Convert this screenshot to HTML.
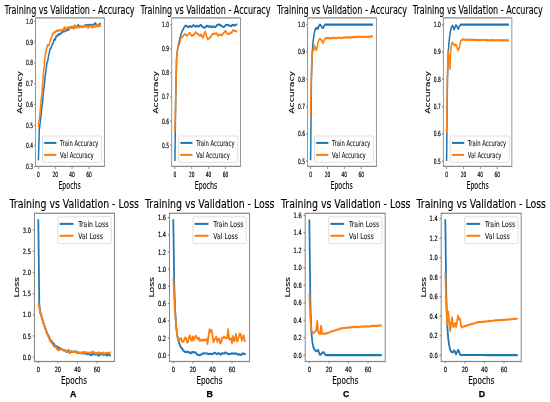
<!DOCTYPE html>
<html><head><meta charset="utf-8"><title>Training vs Validation</title>
<style>html,body{margin:0;padding:0;background:#fff}svg{display:block}</style></head>
<body>
<svg width="550" height="402" viewBox="0 0 550 402">
<rect width="550" height="402" fill="#ffffff"/>
<g transform="scale(0.704,1)" font-family='"DejaVu Sans","Liberation Sans",sans-serif' fill="#000" stroke="#000" stroke-width="0.12">
<rect x="50.57" y="17.90" width="97.73" height="148.50" fill="#fff" stroke="none"/>
<polyline points="54.55,160.28 55.74,130.20 56.94,122.87 58.14,116.42 59.33,107.47 60.53,102.36 61.73,91.14 62.92,85.36 64.12,76.60 65.32,70.85 66.51,63.40 67.71,61.54 68.91,55.86 70.10,52.49 71.30,48.64 72.50,48.16 73.69,45.38 74.89,44.06 76.09,41.38 77.28,39.25 78.48,39.62 79.68,36.73 80.87,35.91 82.07,35.21 83.27,34.11 84.46,34.72 85.66,33.55 86.86,33.52 88.05,32.26 89.25,31.07 90.45,31.71 91.64,31.10 92.84,30.97 94.04,30.74 95.23,30.22 96.43,29.31 97.63,29.88 98.82,28.41 100.02,26.88 101.22,27.29 102.41,27.72 103.61,27.95 104.81,27.75 106.00,25.64 107.20,26.92 108.40,27.40 109.60,26.63 110.79,24.96 111.99,26.52 113.19,26.02 114.38,26.20 115.58,26.66 116.78,27.23 117.97,26.49 119.17,26.29 120.37,25.54 121.56,25.25 122.76,25.09 123.96,25.54 125.15,24.96 126.35,26.24 127.55,24.49 128.74,25.02 129.94,25.60 131.14,24.87 132.33,25.25 133.53,24.17 134.73,23.76 135.92,23.12 137.12,26.01 138.32,25.97 139.51,25.10 140.71,24.47 141.91,23.79 143.10,24.17" fill="none" stroke="#1f77b4" stroke-width="2.15" stroke-linejoin="round" stroke-linecap="butt"/>
<polyline points="54.55,127.09 55.74,119.55 56.94,112.01 58.14,102.43 59.33,95.01 60.53,83.96 61.73,73.00 62.92,65.60 64.12,55.38 65.32,51.15 66.51,47.64 67.71,45.00 68.91,45.67 70.10,44.23 71.30,40.31 72.50,38.71 73.69,36.28 74.89,33.48 76.09,33.27 77.28,31.83 78.48,32.19 79.68,31.21 80.87,30.48 82.07,31.13 83.27,30.39 84.46,30.14 85.66,30.31 86.86,30.60 88.05,30.63 89.25,29.42 90.45,29.35 91.64,27.10 92.84,30.80 94.04,28.51 95.23,28.12 96.43,27.13 97.63,27.67 98.82,28.61 100.02,27.73 101.22,27.11 102.41,27.64 103.61,26.57 104.81,28.71 106.00,25.68 107.20,25.85 108.40,27.30 109.60,26.47 110.79,26.89 111.99,27.57 113.19,26.77 114.38,25.96 115.58,27.06 116.78,27.01 117.97,26.71 119.17,26.25 120.37,25.50 121.56,27.04 122.76,26.04 123.96,26.24 125.15,27.91 126.35,26.67 127.55,26.39 128.74,26.27 129.94,25.92 131.14,27.83 132.33,26.06 133.53,26.61 134.73,27.20 135.92,25.52 137.12,25.30 138.32,26.40 139.51,25.12 140.71,26.08 141.91,25.67 143.10,26.59" fill="none" stroke="#ff7f0e" stroke-width="2.15" stroke-linejoin="round" stroke-linecap="butt"/>
<rect x="50.57" y="17.90" width="97.73" height="148.50" fill="none" stroke="#888888" stroke-width="1.25"/>
<line x1="48.57" x2="50.57" y1="166.50" y2="166.50" stroke="#888888" stroke-width="1.25"/>
<text transform="translate(46.77,169.09) scale(0.86,1)" font-size="7.2" stroke-width="0.22" text-anchor="end">0.3</text>
<line x1="48.57" x2="50.57" y1="145.76" y2="145.76" stroke="#888888" stroke-width="1.25"/>
<text transform="translate(46.77,148.35) scale(0.86,1)" font-size="7.2" stroke-width="0.22" text-anchor="end">0.4</text>
<line x1="48.57" x2="50.57" y1="125.02" y2="125.02" stroke="#888888" stroke-width="1.25"/>
<text transform="translate(46.77,127.61) scale(0.86,1)" font-size="7.2" stroke-width="0.22" text-anchor="end">0.5</text>
<line x1="48.57" x2="50.57" y1="104.28" y2="104.28" stroke="#888888" stroke-width="1.25"/>
<text transform="translate(46.77,106.87) scale(0.86,1)" font-size="7.2" stroke-width="0.22" text-anchor="end">0.6</text>
<line x1="48.57" x2="50.57" y1="83.54" y2="83.54" stroke="#888888" stroke-width="1.25"/>
<text transform="translate(46.77,86.13) scale(0.86,1)" font-size="7.2" stroke-width="0.22" text-anchor="end">0.7</text>
<line x1="48.57" x2="50.57" y1="62.80" y2="62.80" stroke="#888888" stroke-width="1.25"/>
<text transform="translate(46.77,65.39) scale(0.86,1)" font-size="7.2" stroke-width="0.22" text-anchor="end">0.8</text>
<line x1="48.57" x2="50.57" y1="42.06" y2="42.06" stroke="#888888" stroke-width="1.25"/>
<text transform="translate(46.77,44.65) scale(0.86,1)" font-size="7.2" stroke-width="0.22" text-anchor="end">0.9</text>
<line x1="48.57" x2="50.57" y1="21.32" y2="21.32" stroke="#888888" stroke-width="1.25"/>
<text transform="translate(46.77,23.91) scale(0.86,1)" font-size="7.2" stroke-width="0.22" text-anchor="end">1.0</text>
<line x1="54.55" x2="54.55" y1="166.40" y2="169.00" stroke="#888888" stroke-width="1.25"/>
<text transform="translate(54.55,177.00) scale(0.86,1)" font-size="7.2" stroke-width="0.22" text-anchor="middle">0</text>
<line x1="78.48" x2="78.48" y1="166.40" y2="169.00" stroke="#888888" stroke-width="1.25"/>
<text transform="translate(78.48,177.00) scale(0.86,1)" font-size="7.2" stroke-width="0.22" text-anchor="middle">20</text>
<line x1="102.41" x2="102.41" y1="166.40" y2="169.00" stroke="#888888" stroke-width="1.25"/>
<text transform="translate(102.41,177.00) scale(0.86,1)" font-size="7.2" stroke-width="0.22" text-anchor="middle">40</text>
<line x1="126.35" x2="126.35" y1="166.40" y2="169.00" stroke="#888888" stroke-width="1.25"/>
<text transform="translate(126.35,177.00) scale(0.86,1)" font-size="7.2" stroke-width="0.22" text-anchor="middle">60</text>
<text transform="translate(98.86,188.50) scale(0.915,1)" font-size="9.7" text-anchor="middle">Epochs</text>
<text transform="translate(30.68,92.30) rotate(-90)" font-size="9.4" text-anchor="middle">Accuracy</text>
<text x="6.53" y="13.70" font-size="11.5" stroke-width="0.14" textLength="184.66" lengthAdjust="spacingAndGlyphs">Training vs Validation - Accuracy</text>
<rect x="60.37" y="136.00" width="83.95" height="26.30" rx="1.6" ry="1.2" fill="#fff" fill-opacity="0.8" stroke="#cccccc" stroke-width="0.7"/>
<line x1="62.78" x2="80.11" y1="142.90" y2="142.90" stroke="#1f77b4" stroke-width="2.05"/>
<text transform="translate(85.37,146.02) scale(0.915,1)" font-size="8.2" fill="#111" stroke-width="0.08">Train Accuracy</text>
<line x1="62.78" x2="80.11" y1="154.90" y2="154.90" stroke="#ff7f0e" stroke-width="2.05"/>
<text transform="translate(85.37,158.02) scale(0.915,1)" font-size="8.2" fill="#111" stroke-width="0.08">Val Accuracy</text>
</g>
<g transform="scale(0.704,1)" font-family='"DejaVu Sans","Liberation Sans",sans-serif' fill="#000" stroke="#000" stroke-width="0.12">
<rect x="243.89" y="17.90" width="97.73" height="148.50" fill="#fff" stroke="none"/>
<polyline points="248.44,161.01 249.63,96.90 250.83,58.34 252.03,50.48 253.22,45.83 254.42,41.76 255.62,38.16 256.81,35.09 258.01,32.39 259.21,30.53 260.40,29.33 261.60,27.20 262.80,25.99 264.00,25.59 265.19,26.16 266.39,26.67 267.59,26.91 268.78,26.65 269.98,26.12 271.18,26.60 272.37,26.95 273.57,25.99 274.77,25.16 275.96,25.73 277.16,26.67 278.36,26.49 279.55,25.91 280.75,26.14 281.95,26.55 283.14,26.17 284.34,25.17 285.54,25.10 286.73,26.33 287.93,26.90 289.13,27.26 290.32,27.76 291.52,27.41 292.72,26.47 293.91,25.66 295.11,26.15 296.31,26.67 297.50,26.11 298.70,26.40 299.90,27.10 301.09,26.84 302.29,26.60 303.49,26.49 304.68,26.69 305.88,27.13 307.08,26.32 308.27,25.12 309.47,24.78 310.67,24.67 311.86,24.49 313.06,24.98 314.26,25.75 315.45,26.11 316.65,26.69 317.85,27.08 319.04,26.64 320.24,25.31 321.44,24.76 322.63,24.96 323.83,24.96 325.03,25.52 326.23,25.72 327.42,25.82 328.62,26.06 329.82,25.16 331.01,24.73 332.21,25.39 333.41,25.43 334.60,24.95 335.80,24.53 337.00,24.83" fill="none" stroke="#1f77b4" stroke-width="2.15" stroke-linejoin="round" stroke-linecap="butt"/>
<polyline points="248.44,131.36 249.63,96.90 250.83,58.34 252.03,49.44 253.22,46.48 254.42,44.92 255.62,41.89 256.81,38.47 258.01,37.31 259.21,36.80 260.40,35.30 261.60,34.55 262.80,34.14 264.00,34.76 265.19,35.59 266.39,35.28 267.59,34.36 268.78,33.02 269.98,33.11 271.18,34.81 272.37,35.71 273.57,35.10 274.77,35.16 275.96,34.74 277.16,32.80 278.36,32.23 279.55,33.31 280.75,34.14 281.95,34.30 283.14,35.64 284.34,35.85 285.54,34.47 286.73,35.63 287.93,37.78 289.13,36.70 290.32,33.31 291.52,31.58 292.72,34.36 293.91,37.24 295.11,39.45 296.31,38.86 297.50,37.91 298.70,37.49 299.90,36.32 301.09,34.44 302.29,34.04 303.49,33.86 304.68,33.53 305.88,33.61 307.08,33.22 308.27,34.06 309.47,35.82 310.67,35.16 311.86,34.53 313.06,34.83 314.26,35.05 315.45,35.15 316.65,33.85 317.85,32.88 319.04,31.92 320.24,30.79 321.44,31.93 322.63,33.68 323.83,34.03 325.03,33.93 326.23,33.43 327.42,32.64 328.62,32.96 329.82,32.05 331.01,30.02 332.21,30.31 333.41,31.02 334.60,30.96 335.80,31.32 337.00,31.50" fill="none" stroke="#ff7f0e" stroke-width="2.15" stroke-linejoin="round" stroke-linecap="butt"/>
<rect x="243.89" y="17.90" width="97.73" height="148.50" fill="none" stroke="#888888" stroke-width="1.25"/>
<line x1="241.89" x2="243.89" y1="145.10" y2="145.10" stroke="#888888" stroke-width="1.25"/>
<text transform="translate(240.09,147.69) scale(0.86,1)" font-size="7.2" stroke-width="0.22" text-anchor="end">0.5</text>
<line x1="241.89" x2="243.89" y1="121.00" y2="121.00" stroke="#888888" stroke-width="1.25"/>
<text transform="translate(240.09,123.59) scale(0.86,1)" font-size="7.2" stroke-width="0.22" text-anchor="end">0.6</text>
<line x1="241.89" x2="243.89" y1="96.90" y2="96.90" stroke="#888888" stroke-width="1.25"/>
<text transform="translate(240.09,99.49) scale(0.86,1)" font-size="7.2" stroke-width="0.22" text-anchor="end">0.7</text>
<line x1="241.89" x2="243.89" y1="72.80" y2="72.80" stroke="#888888" stroke-width="1.25"/>
<text transform="translate(240.09,75.39) scale(0.86,1)" font-size="7.2" stroke-width="0.22" text-anchor="end">0.8</text>
<line x1="241.89" x2="243.89" y1="48.70" y2="48.70" stroke="#888888" stroke-width="1.25"/>
<text transform="translate(240.09,51.29) scale(0.86,1)" font-size="7.2" stroke-width="0.22" text-anchor="end">0.9</text>
<line x1="241.89" x2="243.89" y1="24.60" y2="24.60" stroke="#888888" stroke-width="1.25"/>
<text transform="translate(240.09,27.19) scale(0.86,1)" font-size="7.2" stroke-width="0.22" text-anchor="end">1.0</text>
<line x1="248.44" x2="248.44" y1="166.40" y2="169.00" stroke="#888888" stroke-width="1.25"/>
<text transform="translate(248.44,177.00) scale(0.86,1)" font-size="7.2" stroke-width="0.22" text-anchor="middle">0</text>
<line x1="272.37" x2="272.37" y1="166.40" y2="169.00" stroke="#888888" stroke-width="1.25"/>
<text transform="translate(272.37,177.00) scale(0.86,1)" font-size="7.2" stroke-width="0.22" text-anchor="middle">20</text>
<line x1="296.31" x2="296.31" y1="166.40" y2="169.00" stroke="#888888" stroke-width="1.25"/>
<text transform="translate(296.31,177.00) scale(0.86,1)" font-size="7.2" stroke-width="0.22" text-anchor="middle">40</text>
<line x1="320.24" x2="320.24" y1="166.40" y2="169.00" stroke="#888888" stroke-width="1.25"/>
<text transform="translate(320.24,177.00) scale(0.86,1)" font-size="7.2" stroke-width="0.22" text-anchor="middle">60</text>
<text transform="translate(292.61,188.50) scale(0.915,1)" font-size="9.7" text-anchor="middle">Epochs</text>
<text transform="translate(224.15,92.30) rotate(-90)" font-size="9.4" text-anchor="middle">Accuracy</text>
<text x="199.57" y="13.70" font-size="11.5" stroke-width="0.14" textLength="184.66" lengthAdjust="spacingAndGlyphs">Training vs Validation - Accuracy</text>
<rect x="253.69" y="136.00" width="83.95" height="26.30" rx="1.6" ry="1.2" fill="#fff" fill-opacity="0.8" stroke="#cccccc" stroke-width="0.7"/>
<line x1="256.11" x2="273.44" y1="142.90" y2="142.90" stroke="#1f77b4" stroke-width="2.05"/>
<text transform="translate(278.69,146.02) scale(0.915,1)" font-size="8.2" fill="#111" stroke-width="0.08">Train Accuracy</text>
<line x1="256.11" x2="273.44" y1="154.90" y2="154.90" stroke="#ff7f0e" stroke-width="2.05"/>
<text transform="translate(278.69,158.02) scale(0.915,1)" font-size="8.2" fill="#111" stroke-width="0.08">Val Accuracy</text>
</g>
<g transform="scale(0.704,1)" font-family='"DejaVu Sans","Liberation Sans",sans-serif' fill="#000" stroke="#000" stroke-width="0.12">
<rect x="436.93" y="17.90" width="97.73" height="148.50" fill="#fff" stroke="none"/>
<polyline points="441.19,160.28 442.39,79.20 443.59,51.90 444.78,40.98 445.98,34.97 447.18,30.61 448.37,28.42 449.57,28.97 450.77,27.33 451.96,28.70 453.16,25.69 454.36,24.60 455.55,25.15 456.75,26.78 457.95,27.60 459.14,27.88 460.34,25.97 461.54,24.60 462.73,24.60 463.93,24.60 465.13,24.60 466.32,24.60 467.52,24.60 468.72,24.60 469.91,24.60 471.11,24.60 472.31,24.60 473.50,24.60 474.70,24.60 475.90,24.60 477.10,24.60 478.29,24.60 479.49,24.60 480.69,24.60 481.88,24.60 483.08,24.60 484.28,24.60 485.47,24.60 486.67,24.60 487.87,24.60 489.06,24.60 490.26,24.60 491.46,24.60 492.65,24.60 493.85,24.60 495.05,24.60 496.24,24.60 497.44,24.60 498.64,24.60 499.83,24.60 501.03,24.60 502.23,24.60 503.42,24.60 504.62,24.60 505.82,24.60 507.01,24.60 508.21,24.60 509.41,24.60 510.60,24.60 511.80,24.60 513.00,24.60 514.19,24.60 515.39,24.60 516.59,24.60 517.78,24.60 518.98,24.60 520.18,24.60 521.37,24.60 522.57,24.60 523.77,24.60 524.96,24.60 526.16,24.60 527.36,24.60 528.55,24.60 529.75,24.60" fill="none" stroke="#1f77b4" stroke-width="2.15" stroke-linejoin="round" stroke-linecap="butt"/>
<polyline points="441.19,114.96 442.39,68.28 443.59,53.27 444.78,50.53 445.98,45.07 447.18,49.17 448.37,47.53 449.57,50.26 450.77,45.62 451.96,41.53 453.16,39.62 454.36,38.80 455.55,39.34 456.75,40.43 457.95,41.53 459.14,43.16 460.34,40.43 461.54,38.80 462.73,38.11 463.93,38.05 465.13,38.13 466.32,37.79 467.52,38.46 468.72,38.24 469.91,37.93 471.11,38.35 472.31,37.73 473.50,37.89 474.70,38.06 475.90,37.88 477.10,38.11 478.29,38.26 479.49,37.71 480.69,37.65 481.88,37.79 483.08,37.78 484.28,38.20 485.47,37.87 486.67,37.75 487.87,37.56 489.06,37.27 490.26,37.64 491.46,37.66 492.65,37.24 493.85,37.43 495.05,37.66 496.24,37.06 497.44,37.47 498.64,37.36 499.83,37.42 501.03,37.08 502.23,36.90 503.42,37.19 504.62,37.00 505.82,37.17 507.01,36.53 508.21,36.69 509.41,37.13 510.60,36.86 511.80,36.75 513.00,36.84 514.19,37.07 515.39,36.92 516.59,36.70 517.78,36.74 518.98,37.00 520.18,36.70 521.37,36.99 522.57,37.21 523.77,36.69 524.96,36.50 526.16,36.58 527.36,36.34 528.55,36.25 529.75,36.53" fill="none" stroke="#ff7f0e" stroke-width="2.15" stroke-linejoin="round" stroke-linecap="butt"/>
<rect x="436.93" y="17.90" width="97.73" height="148.50" fill="none" stroke="#888888" stroke-width="1.25"/>
<line x1="434.93" x2="436.93" y1="161.10" y2="161.10" stroke="#888888" stroke-width="1.25"/>
<text transform="translate(433.13,163.69) scale(0.86,1)" font-size="7.2" stroke-width="0.22" text-anchor="end">0.5</text>
<line x1="434.93" x2="436.93" y1="133.80" y2="133.80" stroke="#888888" stroke-width="1.25"/>
<text transform="translate(433.13,136.39) scale(0.86,1)" font-size="7.2" stroke-width="0.22" text-anchor="end">0.6</text>
<line x1="434.93" x2="436.93" y1="106.50" y2="106.50" stroke="#888888" stroke-width="1.25"/>
<text transform="translate(433.13,109.09) scale(0.86,1)" font-size="7.2" stroke-width="0.22" text-anchor="end">0.7</text>
<line x1="434.93" x2="436.93" y1="79.20" y2="79.20" stroke="#888888" stroke-width="1.25"/>
<text transform="translate(433.13,81.79) scale(0.86,1)" font-size="7.2" stroke-width="0.22" text-anchor="end">0.8</text>
<line x1="434.93" x2="436.93" y1="51.90" y2="51.90" stroke="#888888" stroke-width="1.25"/>
<text transform="translate(433.13,54.49) scale(0.86,1)" font-size="7.2" stroke-width="0.22" text-anchor="end">0.9</text>
<line x1="434.93" x2="436.93" y1="24.60" y2="24.60" stroke="#888888" stroke-width="1.25"/>
<text transform="translate(433.13,27.19) scale(0.86,1)" font-size="7.2" stroke-width="0.22" text-anchor="end">1.0</text>
<line x1="441.19" x2="441.19" y1="166.40" y2="169.00" stroke="#888888" stroke-width="1.25"/>
<text transform="translate(441.19,177.00) scale(0.86,1)" font-size="7.2" stroke-width="0.22" text-anchor="middle">0</text>
<line x1="465.13" x2="465.13" y1="166.40" y2="169.00" stroke="#888888" stroke-width="1.25"/>
<text transform="translate(465.13,177.00) scale(0.86,1)" font-size="7.2" stroke-width="0.22" text-anchor="middle">20</text>
<line x1="489.06" x2="489.06" y1="166.40" y2="169.00" stroke="#888888" stroke-width="1.25"/>
<text transform="translate(489.06,177.00) scale(0.86,1)" font-size="7.2" stroke-width="0.22" text-anchor="middle">40</text>
<line x1="513.00" x2="513.00" y1="166.40" y2="169.00" stroke="#888888" stroke-width="1.25"/>
<text transform="translate(513.00,177.00) scale(0.86,1)" font-size="7.2" stroke-width="0.22" text-anchor="middle">60</text>
<text transform="translate(485.23,188.50) scale(0.915,1)" font-size="9.7" text-anchor="middle">Epochs</text>
<text transform="translate(418.04,92.30) rotate(-90)" font-size="9.4" text-anchor="middle">Accuracy</text>
<text x="393.47" y="13.70" font-size="11.5" stroke-width="0.14" textLength="184.66" lengthAdjust="spacingAndGlyphs">Training vs Validation - Accuracy</text>
<rect x="446.73" y="136.00" width="83.95" height="26.30" rx="1.6" ry="1.2" fill="#fff" fill-opacity="0.8" stroke="#cccccc" stroke-width="0.7"/>
<line x1="449.15" x2="466.48" y1="142.90" y2="142.90" stroke="#1f77b4" stroke-width="2.05"/>
<text transform="translate(471.73,146.02) scale(0.915,1)" font-size="8.2" fill="#111" stroke-width="0.08">Train Accuracy</text>
<line x1="449.15" x2="466.48" y1="154.90" y2="154.90" stroke="#ff7f0e" stroke-width="2.05"/>
<text transform="translate(471.73,158.02) scale(0.915,1)" font-size="8.2" fill="#111" stroke-width="0.08">Val Accuracy</text>
</g>
<g transform="scale(0.704,1)" font-family='"DejaVu Sans","Liberation Sans",sans-serif' fill="#000" stroke="#000" stroke-width="0.12">
<rect x="629.76" y="17.90" width="97.30" height="148.50" fill="#fff" stroke="none"/>
<polyline points="634.38,161.10 635.57,79.20 636.77,51.90 637.97,40.98 639.16,34.16 640.36,29.51 641.56,26.78 642.75,25.69 643.95,27.33 645.15,29.51 646.34,27.33 647.54,25.15 648.74,25.69 649.93,27.88 651.13,28.97 652.33,26.78 653.52,25.15 654.72,24.60 655.92,24.60 657.11,24.60 658.31,24.60 659.51,24.60 660.70,24.60 661.90,24.60 663.10,24.60 664.29,24.60 665.49,24.60 666.69,24.60 667.88,24.60 669.08,24.60 670.28,24.60 671.47,24.60 672.67,24.60 673.87,24.60 675.06,24.60 676.26,24.60 677.46,24.60 678.65,24.60 679.85,24.60 681.05,24.60 682.24,24.60 683.44,24.60 684.64,24.60 685.83,24.60 687.03,24.60 688.23,24.60 689.42,24.60 690.62,24.60 691.82,24.60 693.01,24.60 694.21,24.60 695.41,24.60 696.61,24.60 697.80,24.60 699.00,24.60 700.20,24.60 701.39,24.60 702.59,24.60 703.79,24.60 704.98,24.60 706.18,24.60 707.38,24.60 708.57,24.60 709.77,24.60 710.97,24.60 712.16,24.60 713.36,24.60 714.56,24.60 715.75,24.60 716.95,24.60 718.15,24.60 719.34,24.60 720.54,24.60 721.74,24.60 722.93,24.60" fill="none" stroke="#1f77b4" stroke-width="2.15" stroke-linejoin="round" stroke-linecap="butt"/>
<polyline points="634.38,133.25 635.57,73.74 636.77,51.90 637.97,55.99 639.16,68.83 640.36,50.53 641.56,43.71 642.75,42.62 643.95,43.71 645.15,45.35 646.34,45.07 647.54,44.53 648.74,46.44 649.93,49.17 651.13,50.26 652.33,47.80 653.52,43.71 654.72,40.98 655.92,39.62 657.11,39.67 658.31,39.44 659.51,39.78 660.70,39.73 661.90,39.66 663.10,40.02 664.29,39.85 665.49,39.71 666.69,39.63 667.88,39.82 669.08,39.98 670.28,39.65 671.47,39.94 672.67,39.91 673.87,39.90 675.06,39.95 676.26,40.04 677.46,39.88 678.65,40.17 679.85,40.07 681.05,40.07 682.24,40.17 683.44,40.01 684.64,40.01 685.83,40.04 687.03,40.09 688.23,39.98 689.42,39.81 690.62,39.93 691.82,40.62 693.01,39.94 694.21,40.44 695.41,40.44 696.61,40.14 697.80,40.39 699.00,39.93 700.20,40.08 701.39,40.34 702.59,40.49 703.79,40.18 704.98,40.05 706.18,40.24 707.38,39.97 708.57,40.20 709.77,40.17 710.97,40.36 712.16,40.26 713.36,40.37 714.56,40.66 715.75,39.95 716.95,40.40 718.15,40.37 719.34,40.18 720.54,40.39 721.74,40.39 722.93,40.36" fill="none" stroke="#ff7f0e" stroke-width="2.15" stroke-linejoin="round" stroke-linecap="butt"/>
<rect x="629.76" y="17.90" width="97.30" height="148.50" fill="none" stroke="#888888" stroke-width="1.25"/>
<line x1="627.76" x2="629.76" y1="161.10" y2="161.10" stroke="#888888" stroke-width="1.25"/>
<text transform="translate(625.96,163.69) scale(0.86,1)" font-size="7.2" stroke-width="0.22" text-anchor="end">0.5</text>
<line x1="627.76" x2="629.76" y1="133.80" y2="133.80" stroke="#888888" stroke-width="1.25"/>
<text transform="translate(625.96,136.39) scale(0.86,1)" font-size="7.2" stroke-width="0.22" text-anchor="end">0.6</text>
<line x1="627.76" x2="629.76" y1="106.50" y2="106.50" stroke="#888888" stroke-width="1.25"/>
<text transform="translate(625.96,109.09) scale(0.86,1)" font-size="7.2" stroke-width="0.22" text-anchor="end">0.7</text>
<line x1="627.76" x2="629.76" y1="79.20" y2="79.20" stroke="#888888" stroke-width="1.25"/>
<text transform="translate(625.96,81.79) scale(0.86,1)" font-size="7.2" stroke-width="0.22" text-anchor="end">0.8</text>
<line x1="627.76" x2="629.76" y1="51.90" y2="51.90" stroke="#888888" stroke-width="1.25"/>
<text transform="translate(625.96,54.49) scale(0.86,1)" font-size="7.2" stroke-width="0.22" text-anchor="end">0.9</text>
<line x1="627.76" x2="629.76" y1="24.60" y2="24.60" stroke="#888888" stroke-width="1.25"/>
<text transform="translate(625.96,27.19) scale(0.86,1)" font-size="7.2" stroke-width="0.22" text-anchor="end">1.0</text>
<line x1="634.38" x2="634.38" y1="166.40" y2="169.00" stroke="#888888" stroke-width="1.25"/>
<text transform="translate(634.38,177.00) scale(0.86,1)" font-size="7.2" stroke-width="0.22" text-anchor="middle">0</text>
<line x1="658.31" x2="658.31" y1="166.40" y2="169.00" stroke="#888888" stroke-width="1.25"/>
<text transform="translate(658.31,177.00) scale(0.86,1)" font-size="7.2" stroke-width="0.22" text-anchor="middle">20</text>
<line x1="682.24" x2="682.24" y1="166.40" y2="169.00" stroke="#888888" stroke-width="1.25"/>
<text transform="translate(682.24,177.00) scale(0.86,1)" font-size="7.2" stroke-width="0.22" text-anchor="middle">40</text>
<line x1="706.18" x2="706.18" y1="166.40" y2="169.00" stroke="#888888" stroke-width="1.25"/>
<text transform="translate(706.18,177.00) scale(0.86,1)" font-size="7.2" stroke-width="0.22" text-anchor="middle">60</text>
<text transform="translate(678.41,188.50) scale(0.915,1)" font-size="9.7" text-anchor="middle">Epochs</text>
<text transform="translate(611.22,92.30) rotate(-90)" font-size="9.4" text-anchor="middle">Accuracy</text>
<text x="586.36" y="13.70" font-size="11.5" stroke-width="0.14" textLength="184.66" lengthAdjust="spacingAndGlyphs">Training vs Validation - Accuracy</text>
<rect x="639.56" y="136.00" width="83.95" height="26.30" rx="1.6" ry="1.2" fill="#fff" fill-opacity="0.8" stroke="#cccccc" stroke-width="0.7"/>
<line x1="641.97" x2="659.30" y1="142.90" y2="142.90" stroke="#1f77b4" stroke-width="2.05"/>
<text transform="translate(664.56,146.02) scale(0.915,1)" font-size="8.2" fill="#111" stroke-width="0.08">Train Accuracy</text>
<line x1="641.97" x2="659.30" y1="154.90" y2="154.90" stroke="#ff7f0e" stroke-width="2.05"/>
<text transform="translate(664.56,158.02) scale(0.915,1)" font-size="8.2" fill="#111" stroke-width="0.08">Val Accuracy</text>
</g>
<g transform="scale(0.82,1)" font-family='"DejaVu Sans","Liberation Sans",sans-serif' fill="#000" stroke="#000" stroke-width="0.12">
<rect x="42.01" y="213.30" width="97.56" height="148.20" fill="#fff" stroke="none"/>
<polyline points="46.71,219.25 47.90,304.16 49.09,311.93 50.29,315.18 51.48,318.54 52.67,321.77 53.86,325.26 55.06,327.70 56.25,330.33 57.44,333.29 58.63,335.07 59.83,336.95 61.02,339.37 62.21,340.86 63.40,341.46 64.60,343.33 65.79,343.67 66.98,345.82 68.18,346.34 69.37,346.34 70.56,347.20 71.75,348.07 72.95,348.16 74.14,348.81 75.33,349.11 76.52,349.92 77.72,350.01 78.91,350.21 80.10,350.89 81.30,351.97 82.49,351.21 83.68,350.11 84.87,352.90 86.07,352.19 87.26,352.03 88.45,351.97 89.64,351.63 90.84,351.77 92.03,351.73 93.22,351.79 94.41,352.92 95.61,352.72 96.80,353.04 97.99,352.66 99.19,353.17 100.38,353.55 101.57,352.19 102.76,353.32 103.96,353.66 105.15,353.00 106.34,354.12 107.53,353.84 108.73,354.03 109.92,354.76 111.11,355.19 112.30,353.95 113.50,354.31 114.69,354.36 115.88,353.69 117.08,354.59 118.27,353.32 119.46,355.09 120.65,355.70 121.85,354.45 123.04,354.18 124.23,353.59 125.42,354.74 126.62,354.73 127.81,354.68 129.00,353.41 130.20,355.61 131.39,354.57 132.58,354.81 133.77,355.33 134.97,355.09" fill="none" stroke="#1f77b4" stroke-width="2.15" stroke-linejoin="round" stroke-linecap="butt"/>
<polyline points="46.71,302.89 47.90,307.97 49.09,313.55 50.29,316.03 51.48,318.83 52.67,322.80 53.86,325.18 55.06,328.24 56.25,331.05 57.44,333.91 58.63,336.05 59.83,338.09 61.02,341.11 62.21,341.67 63.40,343.41 64.60,344.55 65.79,346.41 66.98,346.58 68.18,346.70 69.37,348.91 70.56,349.92 71.75,350.25 72.95,349.53 74.14,348.54 75.33,349.55 76.52,349.49 77.72,350.69 78.91,350.08 80.10,351.23 81.30,350.86 82.49,351.54 83.68,351.82 84.87,351.52 86.07,352.00 87.26,351.05 88.45,351.82 89.64,351.76 90.84,352.25 92.03,351.37 93.22,352.60 94.41,351.84 95.61,352.50 96.80,352.91 97.99,352.70 99.19,352.94 100.38,352.65 101.57,352.77 102.76,352.43 103.96,352.32 105.15,352.78 106.34,352.75 107.53,352.61 108.73,353.14 109.92,352.45 111.11,352.41 112.30,352.83 113.50,351.54 114.69,352.43 115.88,353.06 117.08,353.22 118.27,353.15 119.46,353.33 120.65,352.37 121.85,353.47 123.04,353.12 124.23,353.40 125.42,352.48 126.62,353.95 127.81,353.34 129.00,353.21 130.20,352.96 131.39,352.89 132.58,353.30 133.77,352.60 134.97,353.02" fill="none" stroke="#ff7f0e" stroke-width="2.15" stroke-linejoin="round" stroke-linecap="butt"/>
<rect x="42.01" y="213.30" width="97.56" height="148.20" fill="none" stroke="#888888" stroke-width="1.25"/>
<line x1="40.01" x2="42.01" y1="357.10" y2="357.10" stroke="#888888" stroke-width="1.25"/>
<text transform="translate(37.71,359.69) scale(0.86,1)" font-size="7.2" stroke-width="0.22" text-anchor="end">0.0</text>
<line x1="40.01" x2="42.01" y1="335.93" y2="335.93" stroke="#888888" stroke-width="1.25"/>
<text transform="translate(37.71,338.52) scale(0.86,1)" font-size="7.2" stroke-width="0.22" text-anchor="end">0.5</text>
<line x1="40.01" x2="42.01" y1="314.75" y2="314.75" stroke="#888888" stroke-width="1.25"/>
<text transform="translate(37.71,317.34) scale(0.86,1)" font-size="7.2" stroke-width="0.22" text-anchor="end">1.0</text>
<line x1="40.01" x2="42.01" y1="293.58" y2="293.58" stroke="#888888" stroke-width="1.25"/>
<text transform="translate(37.71,296.17) scale(0.86,1)" font-size="7.2" stroke-width="0.22" text-anchor="end">1.5</text>
<line x1="40.01" x2="42.01" y1="272.40" y2="272.40" stroke="#888888" stroke-width="1.25"/>
<text transform="translate(37.71,274.99) scale(0.86,1)" font-size="7.2" stroke-width="0.22" text-anchor="end">2.0</text>
<line x1="40.01" x2="42.01" y1="251.23" y2="251.23" stroke="#888888" stroke-width="1.25"/>
<text transform="translate(37.71,253.82) scale(0.86,1)" font-size="7.2" stroke-width="0.22" text-anchor="end">2.5</text>
<line x1="40.01" x2="42.01" y1="230.05" y2="230.05" stroke="#888888" stroke-width="1.25"/>
<text transform="translate(37.71,232.64) scale(0.86,1)" font-size="7.2" stroke-width="0.22" text-anchor="end">3.0</text>
<line x1="46.71" x2="46.71" y1="361.50" y2="363.30" stroke="#888888" stroke-width="1.25"/>
<text transform="translate(46.71,372.40) scale(0.86,1)" font-size="7.2" stroke-width="0.22" text-anchor="middle">0</text>
<line x1="70.56" x2="70.56" y1="361.50" y2="363.30" stroke="#888888" stroke-width="1.25"/>
<text transform="translate(70.56,372.40) scale(0.86,1)" font-size="7.2" stroke-width="0.22" text-anchor="middle">20</text>
<line x1="94.41" x2="94.41" y1="361.50" y2="363.30" stroke="#888888" stroke-width="1.25"/>
<text transform="translate(94.41,372.40) scale(0.86,1)" font-size="7.2" stroke-width="0.22" text-anchor="middle">40</text>
<line x1="118.27" x2="118.27" y1="361.50" y2="363.30" stroke="#888888" stroke-width="1.25"/>
<text transform="translate(118.27,372.40) scale(0.86,1)" font-size="7.2" stroke-width="0.22" text-anchor="middle">60</text>
<text transform="translate(90.24,384.10) scale(0.915,1)" font-size="9.7" text-anchor="middle">Epochs</text>
<text transform="translate(23.54,287.30) rotate(-90)" font-size="9.4" text-anchor="middle">Loss</text>
<text x="11.59" y="208.50" font-size="11.5" stroke-width="0.14" textLength="157.93" lengthAdjust="spacingAndGlyphs">Training vs Validation - Loss</text>
<rect x="70.67" y="216.80" width="65.00" height="26.80" rx="1.6" ry="1.2" fill="#fff" fill-opacity="0.8" stroke="#cccccc" stroke-width="0.7"/>
<line x1="72.74" x2="89.57" y1="223.90" y2="223.90" stroke="#1f77b4" stroke-width="2.05"/>
<text transform="translate(95.43,227.02) scale(0.915,1)" font-size="8.2" fill="#111" stroke-width="0.08">Train Loss</text>
<line x1="72.74" x2="89.57" y1="235.80" y2="235.80" stroke="#ff7f0e" stroke-width="2.05"/>
<text transform="translate(95.43,238.92) scale(0.915,1)" font-size="8.2" fill="#111" stroke-width="0.08">Val Loss</text>
</g>
<g transform="scale(0.82,1)" font-family='"DejaVu Sans","Liberation Sans",sans-serif' fill="#000" stroke="#000" stroke-width="0.12">
<rect x="206.71" y="213.30" width="97.56" height="148.20" fill="#fff" stroke="none"/>
<polyline points="211.34,219.32 212.53,286.40 213.73,312.20 214.92,326.82 216.11,335.42 217.30,339.72 218.50,343.16 219.69,345.74 220.88,347.58 222.08,348.42 223.27,350.31 224.46,351.10 225.65,351.71 226.85,352.19 228.04,351.91 229.23,351.78 230.42,352.18 231.62,353.04 232.81,353.11 234.00,352.19 235.20,352.14 236.39,352.44 237.58,352.32 238.77,352.75 239.97,354.03 241.16,354.96 242.35,355.03 243.54,355.09 244.74,354.96 245.93,354.21 247.12,353.62 248.31,353.28 249.51,353.20 250.70,353.46 251.89,353.50 253.09,353.61 254.28,354.07 255.47,354.03 256.66,353.77 257.86,353.97 259.05,354.01 260.24,353.35 261.43,352.73 262.63,353.09 263.82,353.82 265.01,354.03 266.20,353.21 267.40,353.29 268.59,354.61 269.78,354.17 270.98,353.17 272.17,353.48 273.36,353.53 274.55,352.62 275.75,352.64 276.94,353.49 278.13,353.93 279.32,354.16 280.52,354.05 281.71,353.67 282.90,353.31 284.10,353.47 285.29,353.69 286.48,353.44 287.67,353.41 288.87,354.13 290.06,354.50 291.25,354.20 292.44,354.68 293.64,354.97 294.83,354.28 296.02,353.47 297.21,353.68 298.41,354.28 299.60,353.82" fill="none" stroke="#1f77b4" stroke-width="2.15" stroke-linejoin="round" stroke-linecap="butt"/>
<polyline points="211.34,277.80 212.53,298.44 213.73,314.78 214.92,327.68 216.11,335.42 217.30,338.77 218.50,340.58 219.69,338.53 220.88,338.28 222.08,341.86 223.27,341.42 224.46,340.44 225.65,337.63 226.85,337.94 228.04,342.43 229.23,341.99 230.42,337.52 231.62,335.50 232.81,339.36 234.00,340.94 235.20,336.65 236.39,340.04 237.58,337.54 238.77,335.56 239.97,337.77 241.16,339.11 242.35,337.53 243.54,340.84 244.74,339.72 245.93,340.67 247.12,339.78 248.31,340.46 249.51,339.74 250.70,340.21 251.89,339.08 253.09,344.02 254.28,336.28 255.47,329.40 256.66,331.98 257.86,329.83 259.05,334.56 260.24,342.26 261.43,339.71 262.63,339.07 263.82,336.72 265.01,341.85 266.20,338.77 267.40,339.01 268.59,343.35 269.78,342.15 270.98,337.84 272.17,337.62 273.36,336.67 274.55,338.00 275.75,338.34 276.94,338.00 278.13,329.40 279.32,338.86 280.52,339.63 281.71,338.36 282.90,343.09 284.10,336.13 285.29,341.20 286.48,339.46 287.67,334.10 288.87,341.29 290.06,340.56 291.25,336.28 292.44,333.70 293.64,334.56 294.83,340.58 296.02,338.00 297.21,335.42 298.41,341.01 299.60,341.44" fill="none" stroke="#ff7f0e" stroke-width="2.15" stroke-linejoin="round" stroke-linecap="butt"/>
<rect x="206.71" y="213.30" width="97.56" height="148.20" fill="none" stroke="#888888" stroke-width="1.25"/>
<line x1="204.71" x2="206.71" y1="355.20" y2="355.20" stroke="#888888" stroke-width="1.25"/>
<text transform="translate(202.41,357.79) scale(0.86,1)" font-size="7.2" stroke-width="0.22" text-anchor="end">0.0</text>
<line x1="204.71" x2="206.71" y1="338.00" y2="338.00" stroke="#888888" stroke-width="1.25"/>
<text transform="translate(202.41,340.59) scale(0.86,1)" font-size="7.2" stroke-width="0.22" text-anchor="end">0.2</text>
<line x1="204.71" x2="206.71" y1="320.80" y2="320.80" stroke="#888888" stroke-width="1.25"/>
<text transform="translate(202.41,323.39) scale(0.86,1)" font-size="7.2" stroke-width="0.22" text-anchor="end">0.4</text>
<line x1="204.71" x2="206.71" y1="303.60" y2="303.60" stroke="#888888" stroke-width="1.25"/>
<text transform="translate(202.41,306.19) scale(0.86,1)" font-size="7.2" stroke-width="0.22" text-anchor="end">0.6</text>
<line x1="204.71" x2="206.71" y1="286.40" y2="286.40" stroke="#888888" stroke-width="1.25"/>
<text transform="translate(202.41,288.99) scale(0.86,1)" font-size="7.2" stroke-width="0.22" text-anchor="end">0.8</text>
<line x1="204.71" x2="206.71" y1="269.20" y2="269.20" stroke="#888888" stroke-width="1.25"/>
<text transform="translate(202.41,271.79) scale(0.86,1)" font-size="7.2" stroke-width="0.22" text-anchor="end">1.0</text>
<line x1="204.71" x2="206.71" y1="252.00" y2="252.00" stroke="#888888" stroke-width="1.25"/>
<text transform="translate(202.41,254.59) scale(0.86,1)" font-size="7.2" stroke-width="0.22" text-anchor="end">1.2</text>
<line x1="204.71" x2="206.71" y1="234.80" y2="234.80" stroke="#888888" stroke-width="1.25"/>
<text transform="translate(202.41,237.39) scale(0.86,1)" font-size="7.2" stroke-width="0.22" text-anchor="end">1.4</text>
<line x1="204.71" x2="206.71" y1="217.60" y2="217.60" stroke="#888888" stroke-width="1.25"/>
<text transform="translate(202.41,220.19) scale(0.86,1)" font-size="7.2" stroke-width="0.22" text-anchor="end">1.6</text>
<line x1="211.34" x2="211.34" y1="361.50" y2="363.30" stroke="#888888" stroke-width="1.25"/>
<text transform="translate(211.34,372.40) scale(0.86,1)" font-size="7.2" stroke-width="0.22" text-anchor="middle">0</text>
<line x1="235.20" x2="235.20" y1="361.50" y2="363.30" stroke="#888888" stroke-width="1.25"/>
<text transform="translate(235.20,372.40) scale(0.86,1)" font-size="7.2" stroke-width="0.22" text-anchor="middle">20</text>
<line x1="259.05" x2="259.05" y1="361.50" y2="363.30" stroke="#888888" stroke-width="1.25"/>
<text transform="translate(259.05,372.40) scale(0.86,1)" font-size="7.2" stroke-width="0.22" text-anchor="middle">40</text>
<line x1="282.90" x2="282.90" y1="361.50" y2="363.30" stroke="#888888" stroke-width="1.25"/>
<text transform="translate(282.90,372.40) scale(0.86,1)" font-size="7.2" stroke-width="0.22" text-anchor="middle">60</text>
<text transform="translate(255.37,384.10) scale(0.915,1)" font-size="9.7" text-anchor="middle">Epochs</text>
<text transform="translate(188.17,287.30) rotate(-90)" font-size="9.4" text-anchor="middle">Loss</text>
<text x="176.83" y="208.50" font-size="11.5" stroke-width="0.14" textLength="157.93" lengthAdjust="spacingAndGlyphs">Training vs Validation - Loss</text>
<rect x="235.37" y="216.80" width="65.00" height="26.80" rx="1.6" ry="1.2" fill="#fff" fill-opacity="0.8" stroke="#cccccc" stroke-width="0.7"/>
<line x1="237.44" x2="254.27" y1="223.90" y2="223.90" stroke="#1f77b4" stroke-width="2.05"/>
<text transform="translate(260.12,227.02) scale(0.915,1)" font-size="8.2" fill="#111" stroke-width="0.08">Train Loss</text>
<line x1="237.44" x2="254.27" y1="235.80" y2="235.80" stroke="#ff7f0e" stroke-width="2.05"/>
<text transform="translate(260.12,238.92) scale(0.915,1)" font-size="8.2" fill="#111" stroke-width="0.08">Val Loss</text>
</g>
<g transform="scale(0.82,1)" font-family='"DejaVu Sans","Liberation Sans",sans-serif' fill="#000" stroke="#000" stroke-width="0.12">
<rect x="372.20" y="213.30" width="97.56" height="148.20" fill="#fff" stroke="none"/>
<polyline points="377.26,219.57 378.45,300.95 379.64,331.57 380.83,341.20 382.03,346.89 383.22,349.07 384.41,350.39 385.60,351.26 386.80,350.82 387.99,349.95 389.18,353.01 390.38,354.85 391.57,354.32 392.76,353.01 393.95,352.14 395.15,352.57 396.34,354.32 397.53,355.11 398.72,355.11 399.92,355.11 401.11,355.11 402.30,355.11 403.50,355.11 404.69,355.11 405.88,355.11 407.07,355.11 408.27,355.11 409.46,355.11 410.65,355.11 411.84,355.11 413.04,355.11 414.23,355.11 415.42,355.11 416.61,355.11 417.81,355.11 419.00,355.11 420.19,355.11 421.39,355.11 422.58,355.11 423.77,355.11 424.96,355.11 426.16,355.11 427.35,355.11 428.54,355.11 429.73,355.11 430.93,355.11 432.12,355.11 433.31,355.11 434.50,355.11 435.70,355.11 436.89,355.11 438.08,355.11 439.28,355.11 440.47,355.11 441.66,355.11 442.85,355.11 444.05,355.11 445.24,355.11 446.43,355.11 447.62,355.11 448.82,355.11 450.01,355.11 451.20,355.11 452.40,355.11 453.59,355.11 454.78,355.11 455.97,355.11 457.17,355.11 458.36,355.11 459.55,355.11 460.74,355.11 461.94,355.11 463.13,355.11 464.32,355.11 465.51,355.11" fill="none" stroke="#1f77b4" stroke-width="2.15" stroke-linejoin="round" stroke-linecap="butt"/>
<polyline points="377.26,293.34 378.45,318.45 379.64,328.95 380.83,332.80 382.03,333.32 383.22,332.27 384.41,331.75 385.60,329.82 386.80,321.07 387.99,331.57 389.18,333.32 390.38,333.94 391.57,325.89 392.76,333.76 393.95,333.76 395.15,333.76 396.34,333.59 397.53,333.41 398.72,333.19 399.92,333.07 401.11,332.64 402.30,332.04 403.50,331.68 404.69,331.30 405.88,331.21 407.07,330.94 408.27,330.37 409.46,330.06 410.65,329.85 411.84,329.53 413.04,329.38 414.23,328.91 415.42,328.38 416.61,328.36 417.81,328.09 419.00,327.96 420.19,327.90 421.39,328.00 422.58,327.74 423.77,327.66 424.96,327.54 426.16,327.46 427.35,327.32 428.54,327.37 429.73,326.95 430.93,327.16 432.12,326.87 433.31,326.82 434.50,326.94 435.70,327.06 436.89,327.14 438.08,327.00 439.28,326.79 440.47,326.67 441.66,326.74 442.85,326.66 444.05,326.18 445.24,326.45 446.43,326.59 447.62,326.30 448.82,326.45 450.01,326.58 451.20,326.18 452.40,326.24 453.59,326.07 454.78,325.78 455.97,325.94 457.17,326.01 458.36,325.62 459.55,326.05 460.74,325.86 461.94,325.46 463.13,325.38 464.32,325.56 465.51,325.55" fill="none" stroke="#ff7f0e" stroke-width="2.15" stroke-linejoin="round" stroke-linecap="butt"/>
<rect x="372.20" y="213.30" width="97.56" height="148.20" fill="none" stroke="#888888" stroke-width="1.25"/>
<line x1="370.20" x2="372.20" y1="355.20" y2="355.20" stroke="#888888" stroke-width="1.25"/>
<text transform="translate(367.90,357.79) scale(0.86,1)" font-size="7.2" stroke-width="0.22" text-anchor="end">0.0</text>
<line x1="370.20" x2="372.20" y1="337.70" y2="337.70" stroke="#888888" stroke-width="1.25"/>
<text transform="translate(367.90,340.29) scale(0.86,1)" font-size="7.2" stroke-width="0.22" text-anchor="end">0.2</text>
<line x1="370.20" x2="372.20" y1="320.20" y2="320.20" stroke="#888888" stroke-width="1.25"/>
<text transform="translate(367.90,322.79) scale(0.86,1)" font-size="7.2" stroke-width="0.22" text-anchor="end">0.4</text>
<line x1="370.20" x2="372.20" y1="302.70" y2="302.70" stroke="#888888" stroke-width="1.25"/>
<text transform="translate(367.90,305.29) scale(0.86,1)" font-size="7.2" stroke-width="0.22" text-anchor="end">0.6</text>
<line x1="370.20" x2="372.20" y1="285.20" y2="285.20" stroke="#888888" stroke-width="1.25"/>
<text transform="translate(367.90,287.79) scale(0.86,1)" font-size="7.2" stroke-width="0.22" text-anchor="end">0.8</text>
<line x1="370.20" x2="372.20" y1="267.70" y2="267.70" stroke="#888888" stroke-width="1.25"/>
<text transform="translate(367.90,270.29) scale(0.86,1)" font-size="7.2" stroke-width="0.22" text-anchor="end">1.0</text>
<line x1="370.20" x2="372.20" y1="250.20" y2="250.20" stroke="#888888" stroke-width="1.25"/>
<text transform="translate(367.90,252.79) scale(0.86,1)" font-size="7.2" stroke-width="0.22" text-anchor="end">1.2</text>
<line x1="370.20" x2="372.20" y1="232.70" y2="232.70" stroke="#888888" stroke-width="1.25"/>
<text transform="translate(367.90,235.29) scale(0.86,1)" font-size="7.2" stroke-width="0.22" text-anchor="end">1.4</text>
<line x1="370.20" x2="372.20" y1="215.20" y2="215.20" stroke="#888888" stroke-width="1.25"/>
<text transform="translate(367.90,217.79) scale(0.86,1)" font-size="7.2" stroke-width="0.22" text-anchor="end">1.6</text>
<line x1="377.26" x2="377.26" y1="361.50" y2="363.30" stroke="#888888" stroke-width="1.25"/>
<text transform="translate(377.26,372.40) scale(0.86,1)" font-size="7.2" stroke-width="0.22" text-anchor="middle">0</text>
<line x1="401.11" x2="401.11" y1="361.50" y2="363.30" stroke="#888888" stroke-width="1.25"/>
<text transform="translate(401.11,372.40) scale(0.86,1)" font-size="7.2" stroke-width="0.22" text-anchor="middle">20</text>
<line x1="424.96" x2="424.96" y1="361.50" y2="363.30" stroke="#888888" stroke-width="1.25"/>
<text transform="translate(424.96,372.40) scale(0.86,1)" font-size="7.2" stroke-width="0.22" text-anchor="middle">40</text>
<line x1="448.82" x2="448.82" y1="361.50" y2="363.30" stroke="#888888" stroke-width="1.25"/>
<text transform="translate(448.82,372.40) scale(0.86,1)" font-size="7.2" stroke-width="0.22" text-anchor="middle">60</text>
<text transform="translate(421.10,384.10) scale(0.915,1)" font-size="9.7" text-anchor="middle">Epochs</text>
<text transform="translate(354.02,287.30) rotate(-90)" font-size="9.4" text-anchor="middle">Loss</text>
<text x="342.68" y="208.50" font-size="11.5" stroke-width="0.14" textLength="157.93" lengthAdjust="spacingAndGlyphs">Training vs Validation - Loss</text>
<rect x="400.85" y="216.80" width="65.00" height="26.80" rx="1.6" ry="1.2" fill="#fff" fill-opacity="0.8" stroke="#cccccc" stroke-width="0.7"/>
<line x1="402.93" x2="419.76" y1="223.90" y2="223.90" stroke="#1f77b4" stroke-width="2.05"/>
<text transform="translate(425.61,227.02) scale(0.915,1)" font-size="8.2" fill="#111" stroke-width="0.08">Train Loss</text>
<line x1="402.93" x2="419.76" y1="235.80" y2="235.80" stroke="#ff7f0e" stroke-width="2.05"/>
<text transform="translate(425.61,238.92) scale(0.915,1)" font-size="8.2" fill="#111" stroke-width="0.08">Val Loss</text>
</g>
<g transform="scale(0.82,1)" font-family='"DejaVu Sans","Liberation Sans",sans-serif' fill="#000" stroke="#000" stroke-width="0.12">
<rect x="538.05" y="213.30" width="97.56" height="148.20" fill="#fff" stroke="none"/>
<polyline points="543.05,219.28 544.24,294.75 545.43,325.95 546.63,338.62 547.82,345.45 549.01,349.84 550.20,351.79 551.40,352.27 552.59,352.27 553.78,350.32 554.98,351.79 556.17,354.22 557.36,352.27 558.55,350.03 559.75,351.30 560.94,354.22 562.13,355.00 563.32,355.01 564.52,355.01 565.71,355.01 566.90,355.01 568.10,355.01 569.29,355.02 570.48,355.02 571.67,355.02 572.87,355.02 574.06,355.02 575.25,355.02 576.44,355.03 577.64,355.03 578.83,355.03 580.02,355.03 581.21,355.03 582.41,355.03 583.60,355.04 584.79,355.04 585.99,355.04 587.18,355.04 588.37,355.04 589.56,355.04 590.76,355.05 591.95,355.05 593.14,355.05 594.33,355.05 595.53,355.05 596.72,355.05 597.91,355.06 599.10,355.06 600.30,355.06 601.49,355.06 602.68,355.06 603.88,355.06 605.07,355.07 606.26,355.07 607.45,355.07 608.65,355.07 609.84,355.07 611.03,355.07 612.22,355.08 613.42,355.08 614.61,355.08 615.80,355.08 617.00,355.08 618.19,355.08 619.38,355.09 620.57,355.09 621.77,355.09 622.96,355.09 624.15,355.09 625.34,355.09 626.54,355.10 627.73,355.10 628.92,355.10 630.11,355.10 631.31,355.10" fill="none" stroke="#1f77b4" stroke-width="2.15" stroke-linejoin="round" stroke-linecap="butt"/>
<polyline points="543.05,272.71 544.24,306.45 545.43,324.97 546.63,311.81 547.82,322.05 549.01,330.82 550.20,323.02 551.40,317.66 552.59,326.93 553.78,325.95 554.98,323.02 556.17,326.93 557.36,322.05 558.55,315.71 559.75,319.12 560.94,318.64 562.13,325.95 563.32,327.41 564.52,326.93 565.71,326.19 566.90,326.16 568.10,325.84 569.29,325.50 570.48,325.07 571.67,324.85 572.87,324.55 574.06,324.29 575.25,324.07 576.44,323.69 577.64,323.44 578.83,323.24 580.02,323.04 581.21,322.37 582.41,322.19 583.60,322.13 584.79,322.04 585.99,321.97 587.18,322.00 588.37,321.91 589.56,321.76 590.76,321.65 591.95,321.57 593.14,321.52 594.33,321.23 595.53,321.14 596.72,320.94 597.91,320.83 599.10,320.95 600.30,320.73 601.49,320.70 602.68,320.56 603.88,320.31 605.07,320.26 606.26,320.29 607.45,320.16 608.65,320.12 609.84,320.12 611.03,320.04 612.22,320.01 613.42,319.71 614.61,319.87 615.80,319.74 617.00,319.63 618.19,319.62 619.38,319.30 620.57,319.32 621.77,319.51 622.96,319.30 624.15,319.04 625.34,319.10 626.54,318.95 627.73,318.86 628.92,318.78 630.11,318.78 631.31,318.64" fill="none" stroke="#ff7f0e" stroke-width="2.15" stroke-linejoin="round" stroke-linecap="butt"/>
<rect x="538.05" y="213.30" width="97.56" height="148.20" fill="none" stroke="#888888" stroke-width="1.25"/>
<line x1="536.05" x2="538.05" y1="355.20" y2="355.20" stroke="#888888" stroke-width="1.25"/>
<text transform="translate(533.75,357.79) scale(0.86,1)" font-size="7.2" stroke-width="0.22" text-anchor="end">0.0</text>
<line x1="536.05" x2="538.05" y1="335.70" y2="335.70" stroke="#888888" stroke-width="1.25"/>
<text transform="translate(533.75,338.29) scale(0.86,1)" font-size="7.2" stroke-width="0.22" text-anchor="end">0.2</text>
<line x1="536.05" x2="538.05" y1="316.20" y2="316.20" stroke="#888888" stroke-width="1.25"/>
<text transform="translate(533.75,318.79) scale(0.86,1)" font-size="7.2" stroke-width="0.22" text-anchor="end">0.4</text>
<line x1="536.05" x2="538.05" y1="296.70" y2="296.70" stroke="#888888" stroke-width="1.25"/>
<text transform="translate(533.75,299.29) scale(0.86,1)" font-size="7.2" stroke-width="0.22" text-anchor="end">0.6</text>
<line x1="536.05" x2="538.05" y1="277.20" y2="277.20" stroke="#888888" stroke-width="1.25"/>
<text transform="translate(533.75,279.79) scale(0.86,1)" font-size="7.2" stroke-width="0.22" text-anchor="end">0.8</text>
<line x1="536.05" x2="538.05" y1="257.70" y2="257.70" stroke="#888888" stroke-width="1.25"/>
<text transform="translate(533.75,260.29) scale(0.86,1)" font-size="7.2" stroke-width="0.22" text-anchor="end">1.0</text>
<line x1="536.05" x2="538.05" y1="238.20" y2="238.20" stroke="#888888" stroke-width="1.25"/>
<text transform="translate(533.75,240.79) scale(0.86,1)" font-size="7.2" stroke-width="0.22" text-anchor="end">1.2</text>
<line x1="536.05" x2="538.05" y1="218.70" y2="218.70" stroke="#888888" stroke-width="1.25"/>
<text transform="translate(533.75,221.29) scale(0.86,1)" font-size="7.2" stroke-width="0.22" text-anchor="end">1.4</text>
<line x1="543.05" x2="543.05" y1="361.50" y2="363.30" stroke="#888888" stroke-width="1.25"/>
<text transform="translate(543.05,372.40) scale(0.86,1)" font-size="7.2" stroke-width="0.22" text-anchor="middle">0</text>
<line x1="566.90" x2="566.90" y1="361.50" y2="363.30" stroke="#888888" stroke-width="1.25"/>
<text transform="translate(566.90,372.40) scale(0.86,1)" font-size="7.2" stroke-width="0.22" text-anchor="middle">20</text>
<line x1="590.76" x2="590.76" y1="361.50" y2="363.30" stroke="#888888" stroke-width="1.25"/>
<text transform="translate(590.76,372.40) scale(0.86,1)" font-size="7.2" stroke-width="0.22" text-anchor="middle">40</text>
<line x1="614.61" x2="614.61" y1="361.50" y2="363.30" stroke="#888888" stroke-width="1.25"/>
<text transform="translate(614.61,372.40) scale(0.86,1)" font-size="7.2" stroke-width="0.22" text-anchor="middle">60</text>
<text transform="translate(586.95,384.10) scale(0.915,1)" font-size="9.7" text-anchor="middle">Epochs</text>
<text transform="translate(519.88,287.30) rotate(-90)" font-size="9.4" text-anchor="middle">Loss</text>
<text x="507.93" y="208.50" font-size="11.5" stroke-width="0.14" textLength="157.93" lengthAdjust="spacingAndGlyphs">Training vs Validation - Loss</text>
<rect x="566.71" y="216.80" width="65.00" height="26.80" rx="1.6" ry="1.2" fill="#fff" fill-opacity="0.8" stroke="#cccccc" stroke-width="0.7"/>
<line x1="568.78" x2="585.61" y1="223.90" y2="223.90" stroke="#1f77b4" stroke-width="2.05"/>
<text transform="translate(591.46,227.02) scale(0.915,1)" font-size="8.2" fill="#111" stroke-width="0.08">Train Loss</text>
<line x1="568.78" x2="585.61" y1="235.80" y2="235.80" stroke="#ff7f0e" stroke-width="2.05"/>
<text transform="translate(591.46,238.92) scale(0.915,1)" font-size="8.2" fill="#111" stroke-width="0.08">Val Loss</text>
</g>
<text x="73.1" y="396.8" font-family='"Liberation Sans",sans-serif' font-weight="bold" font-size="8.8" text-anchor="middle" fill="#000" stroke="#000" stroke-width="0.25">A</text><text x="209.8" y="396.8" font-family='"Liberation Sans",sans-serif' font-weight="bold" font-size="8.8" text-anchor="middle" fill="#000" stroke="#000" stroke-width="0.25">B</text><text x="346.2" y="396.8" font-family='"Liberation Sans",sans-serif' font-weight="bold" font-size="8.8" text-anchor="middle" fill="#000" stroke="#000" stroke-width="0.25">C</text><text x="482.0" y="396.8" font-family='"Liberation Sans",sans-serif' font-weight="bold" font-size="8.8" text-anchor="middle" fill="#000" stroke="#000" stroke-width="0.25">D</text>
</svg>
</body></html>
